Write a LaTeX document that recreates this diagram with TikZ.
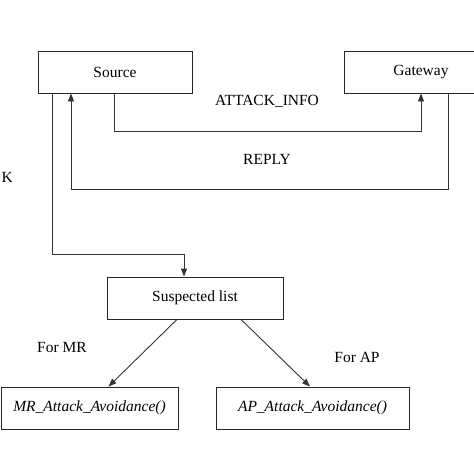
\documentclass[tikz,border=0pt]{standalone}
\usepackage{fontspec}
\setmainfont{Liberation Serif}
\usetikzlibrary{arrows.meta}
\begin{document}
\begin{tikzpicture}[x=1pt,y=-1pt,
  box/.style={draw=black!85,line width=0.9pt,rectangle,minimum height=42pt,inner sep=0pt,font=\fontsize{15.5}{18}\selectfont},
  lbl/.style={font=\fontsize{15.5}{18}\selectfont,inner sep=0pt},
  conn/.style={draw=black!80,line width=0.9pt},
  arr/.style={conn,-{Triangle[length=8pt,width=6pt]}}]
\useasboundingbox (0,0) rectangle (474,474);
\node[box,minimum width=154pt] (src) at (115,72) {Source};
\node[box,minimum width=154pt] (gw) at (421,72) {Gateway};
\node[box,minimum width=176pt] (sus) at (195,298) {Suspected list};
\node[box,minimum width=177pt] (mr) at (89.5,408) {\itshape MR\_Attack\_Avoidance()};
\node[box,minimum width=193pt] (ap) at (312.5,408) {\itshape AP\_Attack\_Avoidance()};
\node[lbl] (ai) at (267,101) {ATTACK\_INFO};
\node[lbl] (rp) at (267,159) {REPLY};
\node[lbl,anchor=east] (k) at (13,177) {K};
\node[lbl] (fmr) at (62,347) {For MR};
\node[lbl] (fap) at (357,357) {For AP};
\draw[arr] ([xshift=-1pt]src.south) -- ++(0,38) -| (gw.south);
\draw[arr] ([xshift=27pt]gw.south) -- ++(0,96) -| ([xshift=-44pt]src.south);
\draw[arr] ([xshift=-63pt]src.south) -- ++(0,161) -| ([xshift=-11pt]sus.north);
\draw[arr] ([xshift=-18pt]sus.south) -- ([xshift=19pt]mr.north);
\draw[arr] ([xshift=46pt]sus.south) -- ([xshift=-2.5pt]ap.north);
\end{tikzpicture}
\end{document}
